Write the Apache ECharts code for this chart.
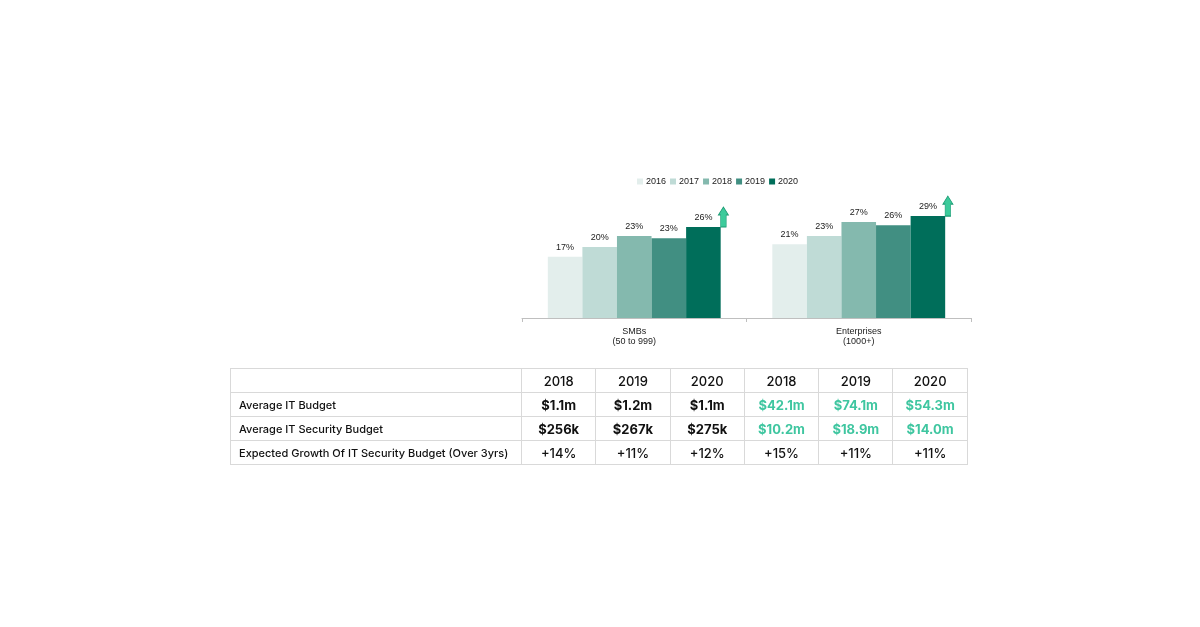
<!DOCTYPE html>
<html>
<head>
<meta charset="utf-8">
<script src="https://cdn.jsdelivr.net/npm/echarts@6/dist/echarts.min.js"></script>
<style>
html,body{margin:0;padding:0;background:#fff;}
#chart{position:absolute;left:0;top:0;width:1200px;height:627px;}
#tbl{position:absolute;left:230px;top:368px;border-collapse:collapse;font-family:Inter,"Noto Sans",sans-serif;color:#111;}
#tbl td{border:1px solid #d9d9d9;height:23px;padding:0;text-align:center;font-size:13px;}
#tbl td.lbl{text-align:left;padding-left:8px;font-size:11px;font-weight:500;width:282px;}
#tbl td.num{width:73.3px;font-weight:700;}
#tbl tr.head td, #tbl tr.mid td{font-weight:500;}
#tbl td.ent{color:#3fc6a0;}
</style>
</head>
<body>
<div id="chart"></div>
<table id="tbl"></table>
<script>
// 数据
var categories = ["SMBs\n(50 to 999)", "Enterprises\n(1000+)"];
var years = ["2016", "2017", "2018", "2019", "2020"];
var smbShare = [17.4, 20.2, 23.3, 22.7, 25.9];
var entShare = [21.0, 23.3, 27.3, 26.4, 29.0];
var barColors = ["#e3eeec", "#bfdbd6", "#84b9ae", "#418f82", "#006e5a"];

var tableYears = ["2018", "2019", "2020", "2018", "2019", "2020"];
var rowLabels = ["Average IT Budget", "Average IT Security Budget", "Expected Growth Of IT Security Budget (Over 3yrs)"];
var itBudget = ["$1.1m", "$1.2m", "$1.1m", "$42.1m", "$74.1m", "$54.3m"];
var secBudget = ["$256k", "$267k", "$275k", "$10.2m", "$18.9m", "$14.0m"];
var growth = ["+14%", "+11%", "+12%", "+15%", "+11%", "+11%"];

var arrowPath = "path://M4.5,0 L9,8 L7,8 L7,20 L2,20 L2,8 L0,8 Z";

var chart = echarts.init(document.getElementById("chart"));
var series = years.map(function (y, i) {
    var s = {
        name: y,
        type: "bar",
        barGap: 0,
        barCategoryGap: "23%",
        itemStyle: {color: barColors[i]},
        label: {
            show: true,
            position: "top",
            distance: 5,
            color: "#222",
            fontSize: 9,
            fontFamily: "Liberation Sans",
            formatter: function (p) { return Math.round(p.value) + "%"; }
        },
        data: [smbShare[i], entShare[i]]
    };
    if (i === years.length - 1) {
        s.markPoint = {
            symbol: arrowPath,
            symbolSize: [10, 20],
            symbolOffset: [20, -10],
            silent: true,
            label: {show: false},
            itemStyle: {color: "#3ccb9b", borderColor: "#1c9a73", borderWidth: 0.8},
            data: [
                {coord: [0, smbShare[i]]},
                {coord: [1, entShare[i]]}
            ]
        };
    }
    return s;
});

var option = {
    animation: false,
    legend: {
        data: years,
        left: 632,
        top: 172,
        itemWidth: 6,
        itemHeight: 6,
        itemGap: 4,
        icon: "rect",
        textStyle: {color: "#222", fontSize: 9, fontFamily: "Liberation Sans", padding: [0, 0, 0, -2]}
    },
    grid: {left: 522, right: 229, top: 195, bottom: 309, containLabel: false},
    xAxis: {
        type: "category",
        data: categories,
        axisLine: {lineStyle: {color: "#bfbfbf"}},
        axisTick: {show: true, length: 4, lineStyle: {color: "#bfbfbf"}},
        axisLabel: {color: "#222", fontSize: 9, fontFamily: "Liberation Sans", lineHeight: 10, margin: 9}
    },
    yAxis: {
        type: "value",
        min: 0,
        max: 35,
        show: false,
        splitLine: {show: false}
    },
    series: series
};
chart.setOption(option);

// 表格
var tbl = document.getElementById("tbl");
function addRow(label, cells, cls, teal) {
    var tr = document.createElement("tr");
    if (cls) tr.className = cls;
    var td = document.createElement("td");
    td.className = "lbl";
    td.textContent = label;
    tr.appendChild(td);
    cells.forEach(function (v, i) {
        var c = document.createElement("td");
        c.className = "num" + (teal && i >= 3 ? " ent" : "");
        c.textContent = v;
        tr.appendChild(c);
    });
    tbl.appendChild(tr);
}
addRow("", tableYears, "head", false);
addRow(rowLabels[0], itBudget, "", true);
addRow(rowLabels[1], secBudget, "", true);
addRow(rowLabels[2], growth, "mid", false);
</script>
</body>
</html>
